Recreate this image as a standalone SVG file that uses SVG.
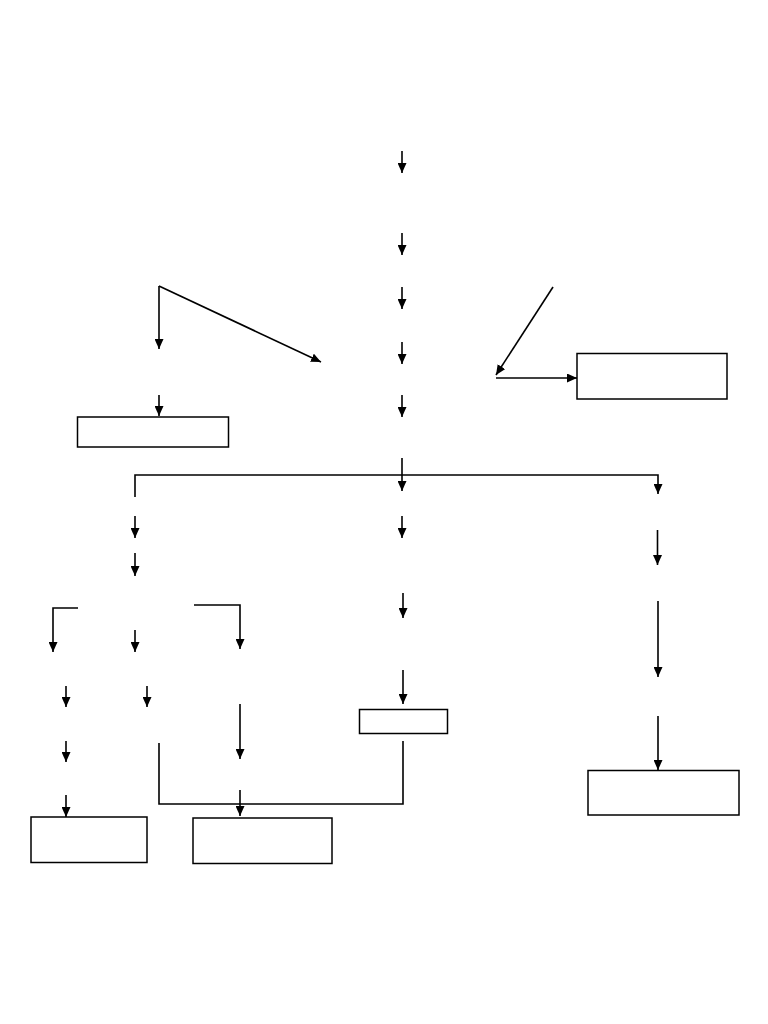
<svg xmlns="http://www.w3.org/2000/svg" width="768" height="1024" viewBox="0 0 768 1024">
<defs>
<marker id="ah" markerUnits="userSpaceOnUse" markerWidth="10" markerHeight="9" refX="10" refY="4.5" orient="auto"><path d="M0,0 L10,4.5 L0,9 z" fill="#000"/></marker>
<style>
.c{fill:none;stroke:#000;stroke-width:1.6}
.a{fill:none;stroke:#000;stroke-width:1.6;marker-end:url(#ah)}
.n{fill:#fff;stroke:#000;stroke-width:1.5}
</style>
</defs>
<rect width="768" height="1024" fill="#fff"/>
<g id="connectors">
<line class="a" x1="402" y1="151" x2="402" y2="173"/>
<line class="a" x1="402" y1="233" x2="402" y2="255"/>
<line class="a" x1="402" y1="287" x2="402" y2="309"/>
<line class="a" x1="402" y1="342" x2="402" y2="364"/>
<line class="a" x1="402" y1="395" x2="402" y2="417"/>
<line class="a" x1="402" y1="458" x2="402" y2="491"/>
<line class="a" x1="402" y1="516" x2="402" y2="538"/>
<line class="a" x1="403" y1="593" x2="403" y2="618"/>
<line class="a" x1="403" y1="670" x2="403" y2="704"/>
<polyline class="c" points="403,741 403,804 159,804 159,743"/>
<line class="a" x1="159" y1="286" x2="159" y2="349"/>
<line class="a" x1="159" y1="286" x2="321" y2="362"/>
<line class="a" x1="159" y1="395" x2="159" y2="416"/>
<line class="a" x1="553" y1="287" x2="496" y2="375"/>
<line class="a" x1="496" y1="378" x2="577" y2="378"/>
<polyline class="a" points="135,497 135,475 658,475 658,494"/>
<line class="a" x1="135" y1="516" x2="135" y2="538"/>
<line class="a" x1="135" y1="553" x2="135" y2="576"/>
<line class="a" x1="135" y1="630" x2="135" y2="652"/>
<polyline class="a" points="78,608 53,608 53,652"/>
<polyline class="a" points="194,605 240,605 240,649"/>
<line class="a" x1="66" y1="686" x2="66" y2="707"/>
<line class="a" x1="147" y1="686" x2="147" y2="707"/>
<line class="a" x1="240" y1="704" x2="240" y2="759"/>
<line class="a" x1="66" y1="741" x2="66" y2="762"/>
<line class="a" x1="66" y1="795" x2="66" y2="817"/>
<line class="a" x1="240" y1="790" x2="240" y2="816"/>
<line class="a" x1="657.5" y1="530" x2="657.5" y2="565"/>
<line class="a" x1="658" y1="601" x2="658" y2="677"/>
<line class="a" x1="658" y1="716" x2="658" y2="770"/>
</g>
<g id="node-left-top"><rect class="n" x="77.5" y="417" width="151" height="30"/></g>
<g id="node-right-top"><rect class="n" x="577" y="353.5" width="150" height="45.5"/></g>
<g id="node-center"><rect class="n" x="359.5" y="709.5" width="88" height="24"/></g>
<g id="node-right-bottom"><rect class="n" x="588" y="770.5" width="151" height="44.5"/></g>
<g id="node-left-bottom"><rect class="n" x="31" y="817" width="116" height="45.5"/></g>
<g id="node-mid-bottom"><rect class="n" x="193" y="818" width="139" height="45.5"/></g>
</svg>
